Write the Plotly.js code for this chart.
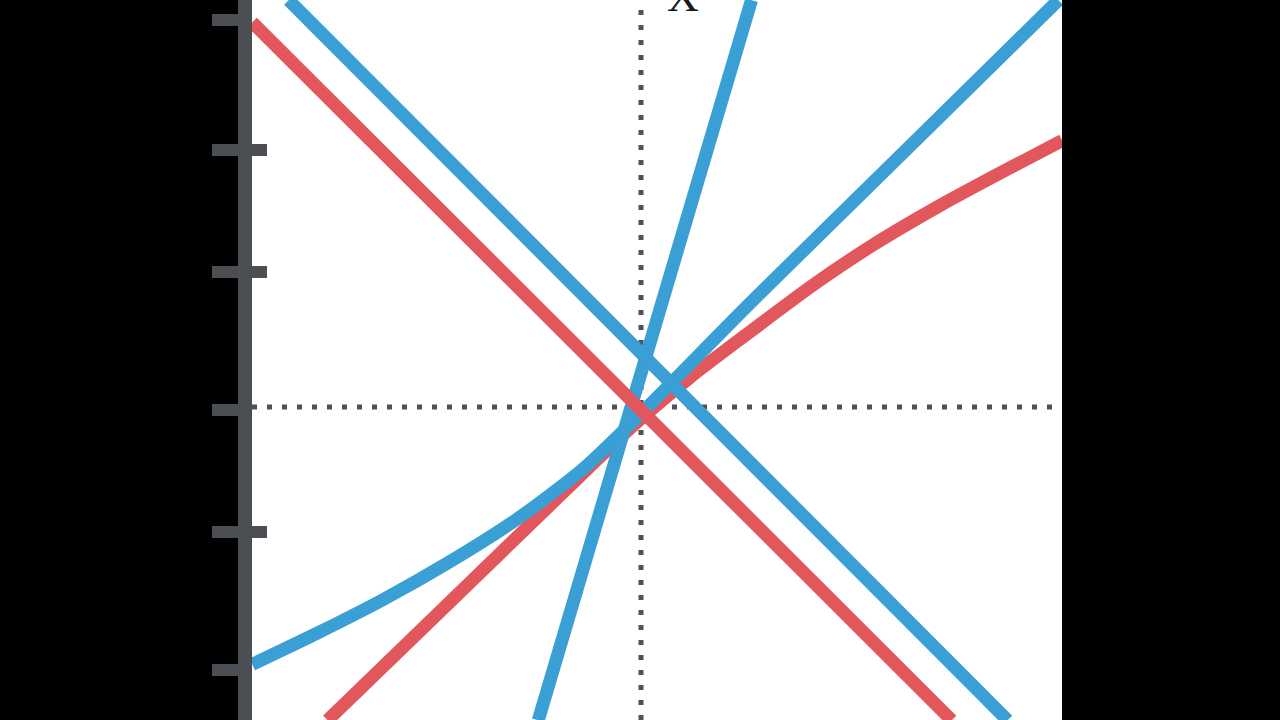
<!DOCTYPE html>
<html>
<head>
<meta charset="utf-8">
<script src="https://cdn.plot.ly/plotly-3.0.1.min.js"></script>
<style>
  html, body { margin: 0; padding: 0; background: #000; }
  #plot { width: 1280px; height: 720px; }
</style>
</head>
<body>
<div id="plot"></div>
<script>
// values, in axis units (1 unit = one tick step)
let red_curve_x = [-2.41, -0.24, 0.0, 0.38, 0.76, 1.34, 1.79, 2.30, 2.82, 3.24]
let red_curve_y = [-2.41, -0.31, -0.09, 0.23, 0.52, 0.95, 1.25, 1.55, 1.83, 2.05]

let blue_curve_x = [-2.99, -2.49, -1.98, -1.47, -0.95, -0.45, 0.0, 0.82, 1.99, 3.21]
let blue_curve_y = [-1.98, -1.74, -1.48, -1.19, -0.86, -0.48, -0.05, 0.78, 1.93, 3.13]

let blue_steep_x = [-0.79, 0.85]
let blue_steep_y = [-2.41, 3.13]

let blue_down_x = [-2.71, 2.82]
let blue_down_y = [3.13, -2.41]

let red_down_x = [-2.99, 2.39]
let red_down_y = [2.96, -2.41]

// y ticks: all of them stick out left, some also cross into the plot
let ytick_vals = [2.98, 1.98, 1.04, -0.02, -0.96, -2.02]
let ytick_both = [1.98, 1.04, -0.96]

let axis_label = 'X'
let label_x = 0.32

let blue = '#3a9fd4'
let red = '#e2575c'
let axis_grey = '#4b4e53'
let lw = 13

let line_trace = function(xs, ys, colour) {
  return {
    x: xs,
    y: ys,
    mode: 'lines',
    type: 'scatter',
    line: {color: colour, width: lw, shape: 'spline', smoothing: 0.7},
    hoverinfo: 'skip',
    showlegend: false
  }
}

let traces = [
  line_trace(red_curve_x, red_curve_y, red),
  line_trace(blue_curve_x, blue_curve_y, blue),
  line_trace(blue_steep_x, blue_steep_y, blue),
  line_trace(blue_down_x, blue_down_y, blue),
  line_trace(red_down_x, red_down_y, red)
]
// an empty trace so the second y axis gets drawn
traces.push({x: [], y: [], yaxis: 'y2', type: 'scatter', mode: 'lines', showlegend: false})

let x_range = [-2.992, 3.238]
let y_range = [-2.408, 3.131]

let dotted = {color: '#505154', width: 5, dash: '5px,10px'}

let layout = {
  width: 1280,
  height: 720,
  margin: {l: 252, r: 218, t: 0, b: 0, pad: 0},
  paper_bgcolor: '#000000',
  plot_bgcolor: '#ffffff',
  showlegend: false,
  xaxis: {
    range: x_range,
    showgrid: false, zeroline: false, showline: false,
    showticklabels: false, ticks: '', fixedrange: true
  },
  yaxis: {
    range: y_range,
    showgrid: false, zeroline: false,
    showline: true, linecolor: axis_grey, linewidth: 14,
    ticks: 'outside', tickmode: 'array', tickvals: ytick_vals,
    ticklen: 26, tickwidth: 12, tickcolor: axis_grey,
    showticklabels: false, fixedrange: true
  },
  yaxis2: {
    overlaying: 'y',
    side: 'left',
    range: y_range,
    showgrid: false, zeroline: false, showline: false,
    ticks: 'inside', tickmode: 'array', tickvals: ytick_both,
    ticklen: 15, tickwidth: 12, tickcolor: axis_grey,
    showticklabels: false, fixedrange: true
  },
  shapes: [
    {type: 'line', layer: 'below', xref: 'x', yref: 'paper', x0: 0, x1: 0, y0: 0, y1: 1, line: dotted},
    {type: 'line', layer: 'below', xref: 'paper', yref: 'y', x0: 0, x1: 1, y0: 0, y1: 0, line: dotted}
  ],
  annotations: [{
    text: axis_label,
    xref: 'x', yref: 'paper',
    x: label_x, y: 1,
    xanchor: 'center', yanchor: 'middle',
    yshift: 4,
    showarrow: false,
    font: {family: 'Liberation Serif, serif', size: 44, color: '#1a1a1a'}
  }]
}

Plotly.newPlot('plot', traces, layout, {staticPlot: true, displayModeBar: false})
</script>
</body>
</html>
